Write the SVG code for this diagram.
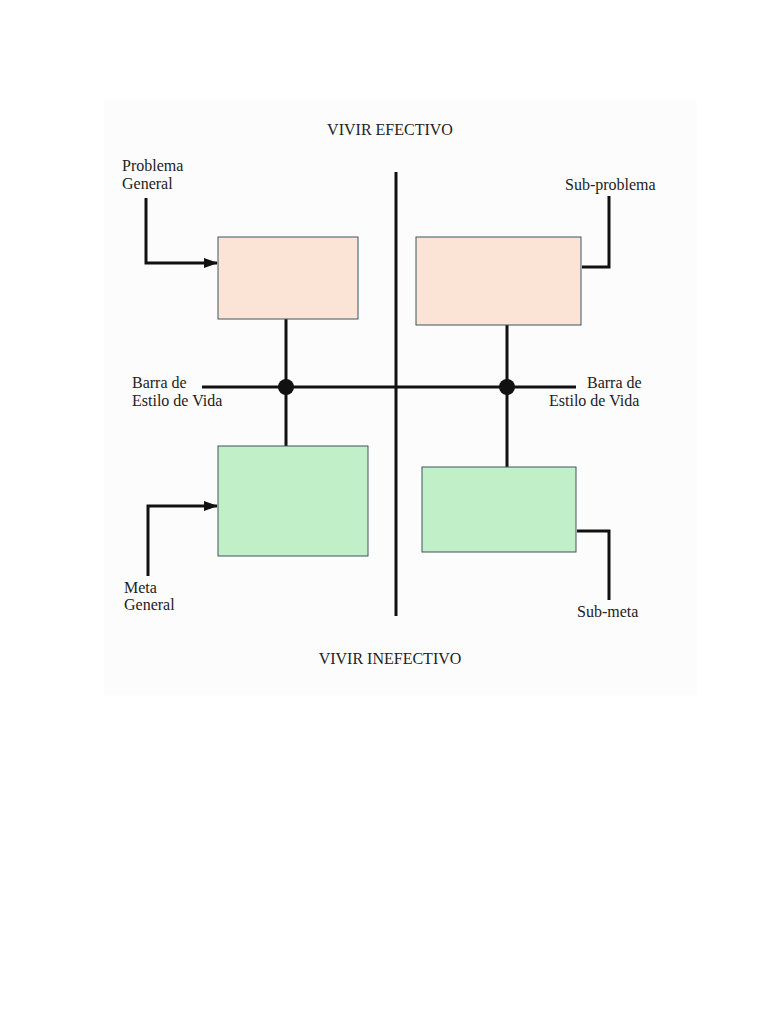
<svg xmlns="http://www.w3.org/2000/svg" width="768" height="1024" viewBox="0 0 768 1024">
<style>
.t{font-family:"Liberation Serif",serif;font-size:16px;fill:#222}
.l{stroke:#111;stroke-width:3;fill:none}
.p{fill:#fbe3d6;stroke:#3a5560;stroke-width:1}
.g{fill:#c1f0c8;stroke:#3a5560;stroke-width:1}
</style>
<defs><marker id="a" markerWidth="14" markerHeight="10" refX="13" refY="5" orient="auto" markerUnits="userSpaceOnUse"><path d="M0,0L14,5L0,10z" fill="#111"/></marker></defs>
<rect width="768" height="1024" fill="#fff"/>
<rect x="104" y="100" width="593" height="595" fill="#fcfcfc"/>
<text class="t" x="390" y="135" text-anchor="middle">VIVIR EFECTIVO</text>
<text class="t" x="390" y="664" text-anchor="middle">VIVIR INEFECTIVO</text>
<g id="connectors">
<line class="l" x1="396" y1="172" x2="396" y2="616"/>
<line class="l" x1="202" y1="387" x2="576" y2="387"/>
<line class="l" x1="286" y1="319" x2="286" y2="446"/>
<line class="l" x1="507" y1="325" x2="507" y2="467"/>
<circle cx="286" cy="387" r="8" fill="#111"/>
<circle cx="507" cy="387" r="8" fill="#111"/>
<path class="l" d="M146,198V263H217" marker-end="url(#a)"/>
<path class="l" d="M148,576V506H217" marker-end="url(#a)"/>
<path class="l" d="M582,267H609V196"/>
<path class="l" d="M577,531H609V600"/>
</g>
<g id="n1"><rect class="p" x="218" y="237" width="140" height="82"/></g>
<g id="n2"><rect class="p" x="416" y="237" width="165" height="88"/></g>
<g id="n3"><rect class="g" x="218" y="446" width="150" height="110"/></g>
<g id="n4"><rect class="g" x="422" y="467" width="154" height="85"/></g>
<text class="t" x="122" y="171">Problema</text>
<text class="t" x="122" y="189">General</text>
<text class="t" x="565" y="190">Sub-problema</text>
<text class="t" x="132" y="388">Barra de</text>
<text class="t" x="132" y="406">Estilo de Vida</text>
<text class="t" x="587" y="388">Barra de</text>
<text class="t" x="549" y="406">Estilo de Vida</text>
<text class="t" x="124" y="593">Meta</text>
<text class="t" x="124" y="610">General</text>
<text class="t" x="577" y="617">Sub-meta</text>
</svg>
